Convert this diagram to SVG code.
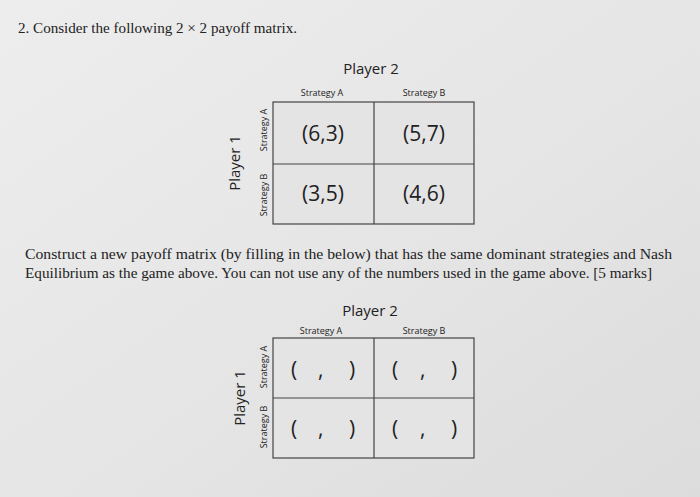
<svg xmlns="http://www.w3.org/2000/svg" width="700" height="497" viewBox="0 0 700 497">
<defs>
<linearGradient id="bg" x1="0" y1="0" x2="1" y2="1">
<stop offset="0" stop-color="#ededed"/><stop offset="0.5" stop-color="#e6e6e6"/><stop offset="1" stop-color="#dcdcdc"/>
</linearGradient>
</defs>
<style>
.s{font-family:"Liberation Serif",serif;font-size:14.5px;fill:#222}
.c{font-family:"Open Sans","Liberation Sans",sans-serif;fill:#222}
.p{font-size:15px}
.st{font-size:9px}
.v{font-size:21px}
.g{fill:#e4e4e4;stroke:#444;stroke-width:1.2}
.l{stroke:#444;stroke-width:1.2}
</style>
<rect width="700" height="497" fill="url(#bg)"/>
<text class="s" x="18" y="33" textLength="279" lengthAdjust="spacingAndGlyphs">2. Consider the following 2 × 2 payoff matrix.</text>
<text class="s" x="25" y="259" textLength="647" lengthAdjust="spacingAndGlyphs">Construct a new payoff matrix (by filling in the below) that has the same dominant strategies and Nash</text>
<text class="s" x="25" y="278" textLength="627" lengthAdjust="spacingAndGlyphs">Equilibrium as the game above. You can not use any of the numbers used in the game above. [5 marks]</text>
<g id="matrix1">
<text class="c p" x="371" y="74" text-anchor="middle">Player 2</text>
<text class="c st" x="322" y="96" text-anchor="middle">Strategy A</text>
<text class="c st" x="424" y="96" text-anchor="middle">Strategy B</text>
<text class="c p" transform="translate(240,163) rotate(-90)" text-anchor="middle">Player 1</text>
<text class="c st" transform="translate(267,130) rotate(-90)" text-anchor="middle">Strategy A</text>
<text class="c st" transform="translate(267,195) rotate(-90)" text-anchor="middle">Strategy B</text>
<rect class="g" x="273" y="102" width="201" height="122"/>
<line class="l" x1="374" y1="102" x2="374" y2="224"/>
<line class="l" x1="273" y1="164" x2="474" y2="164"/>
<text class="c v" x="323" y="141" text-anchor="middle">(6,3)</text>
<text class="c v" x="424" y="141" text-anchor="middle">(5,7)</text>
<text class="c v" x="323" y="201" text-anchor="middle">(3,5)</text>
<text class="c v" x="424" y="201" text-anchor="middle">(4,6)</text>
</g>
<g id="matrix2">
<text class="c p" x="370" y="316" text-anchor="middle">Player 2</text>
<text class="c st" x="321" y="334" text-anchor="middle">Strategy A</text>
<text class="c st" x="424" y="334" text-anchor="middle">Strategy B</text>
<text class="c p" transform="translate(245,398) rotate(-90)" text-anchor="middle">Player 1</text>
<text class="c st" transform="translate(267,367) rotate(-90)" text-anchor="middle">Strategy A</text>
<text class="c st" transform="translate(267,427) rotate(-90)" text-anchor="middle">Strategy B</text>
<rect class="g" x="273" y="338" width="201" height="120"/>
<line class="l" x1="374" y1="338" x2="374" y2="458"/>
<line class="l" x1="273" y1="398" x2="474" y2="398"/>
<text class="c v" y="377"><tspan x="291">(</tspan><tspan x="318">,</tspan><tspan x="349">)</tspan><tspan x="392">(</tspan><tspan x="420">,</tspan><tspan x="451">)</tspan></text>
<text class="c v" y="436"><tspan x="291">(</tspan><tspan x="318">,</tspan><tspan x="349">)</tspan><tspan x="392">(</tspan><tspan x="420">,</tspan><tspan x="451">)</tspan></text>
</g>
</svg>
